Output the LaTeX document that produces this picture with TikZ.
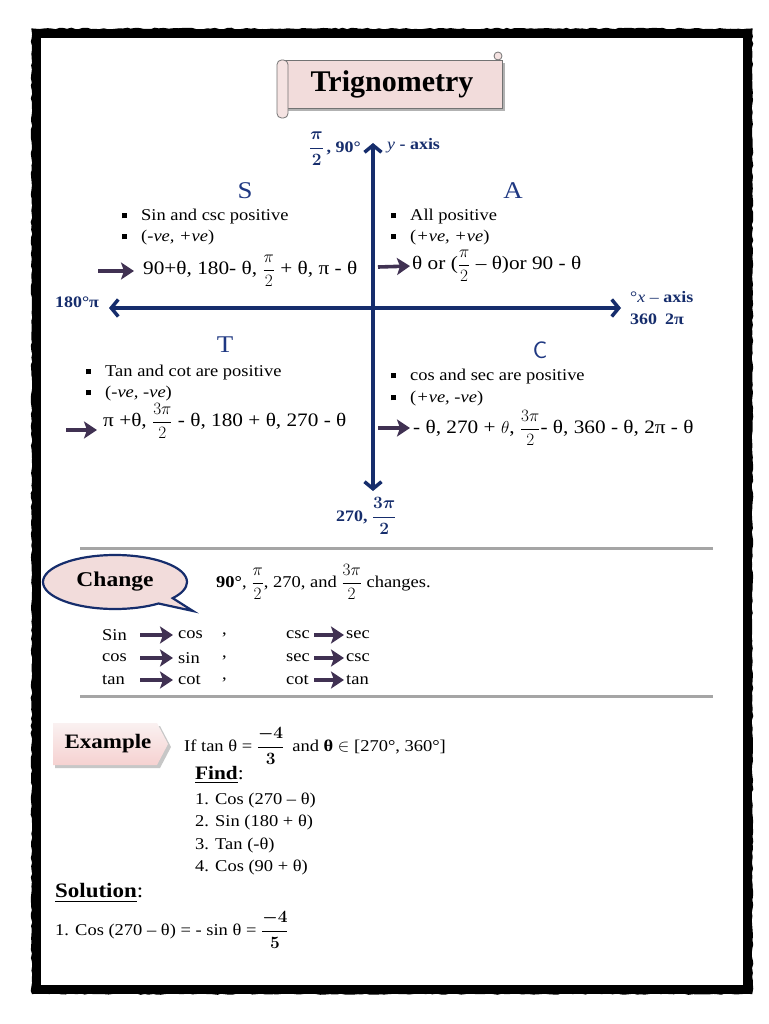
\documentclass[tikz,border=0pt]{standalone}
\usepackage{amsmath}
\usepackage{fontspec}
\setmainfont[FakeStretch=1.12]{Liberation Serif}
\newfontfamily\titlefont{Liberation Serif}
\usetikzlibrary{arrows.meta,shapes.callouts,shapes.geometric,decorations.pathmorphing,shadows}
\definecolor{navy}{RGB}{22,45,108}
\definecolor{quadc}{RGB}{31,56,130}
\definecolor{parrow}{RGB}{64,49,82}
\definecolor{pinkf}{RGB}{242,220,219}
\definecolor{rulec}{RGB}{165,165,165}
\newcommand{\bul}{\makebox[19pt][l]{\rule[2.5pt]{5pt}{5pt}}}
\newcommand{\bfrac}[2]{{\boldmath$\dfrac{#1}{#2}$}}
\begin{document}
\begin{tikzpicture}[x=1pt,y=-1pt,
  txt/.style={anchor=west,inner sep=0pt,font=\fontsize{16.5}{19}\selectfont},
  form/.style={anchor=west,inner sep=0pt,font=\fontsize{19}{22}\selectfont},
  quad/.style={inner sep=0pt,text=quadc,font=\fontsize{24}{28}\selectfont},
  axlab/.style={inner sep=0pt,text=navy,font=\bfseries\boldmath\fontsize{16}{19}\selectfont},
  parr/.style={draw=parrow,line width=3.6pt,-{Stealth[length=13pt,width=17pt,inset=3pt]}},
  axisln/.style={draw=navy,line width=3.5pt,{Straight Barb[length=7pt,width=17pt,line width=3.5pt]}-{Straight Barb[length=7pt,width=17pt,line width=3.5pt]}},
  grule/.style={draw=rulec,line width=3pt},
  rowtxt/.style={anchor=west,inner sep=0pt,font=\fontsize{16.5}{19}\selectfont}
]
\useasboundingbox (0,0) rectangle (768,1024);
\fill[white] (0,0) rectangle (768,1024);
% border
\draw[line width=9pt] (36.5,33.5) rectangle (747.5,989);
\draw[line width=3pt,decorate,decoration={random steps,segment length=4pt,amplitude=0.8pt}] (33,30) rectangle (751,992.5);

% title scroll
\fill[black!30] (288,63) rectangle (505,111);
\draw[black!55,fill=pinkf,line width=0.8pt] (285,60) rectangle (502,108);
\draw[black!55,fill=pinkf!80!white,line width=0.8pt,rounded corners=4.5pt] (277,60) rectangle (288,118);
\draw[black!55,fill=pinkf!80!white,line width=0.8pt] (498,56) circle (4pt);
\node[inner sep=0pt,font=\titlefont\bfseries\fontsize{30}{33}\selectfont] (title) at (392,84) {Trignometry};

% axes
\coordinate (ytop) at (373,143);
\coordinate (ybot) at (373,491);
\coordinate (xleft) at (109,308);
\coordinate (xright) at (621,308);
\draw[axisln] (ybot) -- (ytop);
\draw[axisln] (xleft) -- (xright);

% axis labels
\node[axlab,anchor=west] (l90) at (309,149) {$\dfrac{\pi}{2}$\,, 90°};
\node[anchor=west,inner sep=0pt,text=navy,font=\fontsize{16}{19}\selectfont] (yax) at (387,146) {\textit{y}\textbf{ - axis}};
\node[axlab,anchor=west] (l180) at (55,302) {180°π};
\node[anchor=west,inner sep=0pt,text=navy,font=\fontsize{16}{19}\selectfont] (xax) at (630,297) {°\textit{x} – \textbf{axis}};
\node[axlab,anchor=west] (l360) at (630,319) {360\hspace{8pt}2π};
\node[axlab,anchor=west] (l270) at (336,516) {270, $\dfrac{3\pi}{2}$};

% quadrant letters
\node[quad] (S) at (245,191) {S};
\node[quad] (A) at (513,191) {A};
\node[quad] (T) at (225,345) {T};
\node[quad,font=\sffamily\fontsize{24}{28}\selectfont] (C) at (540,350) {C};

% S quadrant
\node[txt] (s1) at (122,217) {\bul Sin and csc positive};
\node[txt] (s2) at (122,238) {\bul (\textit{-ve, +ve})};
\node[form] (sform) at (143,271) {90+θ, 180- θ, $\dfrac{\pi}{2}$ + θ, π - θ};
\coordinate (sarr) at (98,271);
\draw[parr,shorten >=9pt] (sarr) -- (sform.west);

% A quadrant
\node[txt] (a1) at (391,217) {\bul All positive};
\node[txt] (a2) at (391,238) {\bul (\textit{+ve, +ve})};
\node[form] (aform) at (412,266) {θ or ($\dfrac{\pi}{2}$ – θ)or 90 - θ};
\coordinate (aarr) at (378,267);
\draw[parr,shorten >=2pt] (aarr) -- (aform.west);

% T quadrant
\node[txt] (t1) at (86,373) {\bul Tan and cot are positive};
\node[txt] (t2) at (86,394) {\bul (\textit{-ve, -ve})};
\node[form] (tform) at (103,421) {π +θ, $\dfrac{3\pi}{2}$ - θ, 180 + θ, 270 - θ};
\coordinate (tarr) at (66,430);
\draw[parr,shorten >=6pt] (tarr) -- (tform.west |- tarr);

% C quadrant
\node[txt] (c1) at (391,377) {\bul cos and sec are positive};
\node[txt] (c2) at (391,399) {\bul (\textit{+ve, -ve})};
\node[form] (cform) at (413,428) {- θ, 270 + $\theta$, $\dfrac{3\pi}{2}$- θ, 360 - θ, 2π - θ};
\coordinate (carr) at (378,428);
\draw[parr,shorten >=3pt] (carr) -- (cform.west);

% rules
\coordinate (r1a) at (80,548); \coordinate (r1b) at (713,548);
\coordinate (r2a) at (80,696); \coordinate (r2b) at (713,696);
\draw[grule] (r1a) -- (r1b);
\draw[grule] (r2a) -- (r2b);

% change callout
\coordinate (chtip) at (193,611);
\node[ellipse callout,draw=navy,line width=2.2pt,fill=pinkf,minimum width=144pt,minimum height=54pt,
  callout absolute pointer={(chtip)},callout pointer arc=16,font=\bfseries\fontsize{21}{24}\selectfont] (chg) at (115,582) {Change};
\node[txt] (chtxt) at (216,582) {\textbf{90°}, $\dfrac{\pi}{2}$, 270, and $\dfrac{3\pi}{2}$ changes.};

% change rows
\foreach \ii/\yy/\qa/\qb/\qc/\qd in {1/635/Sin/cos/csc/sec, 2/658/cos/sin/sec/csc, 3/680/tan/cot/cot/tan}{
  \node[rowtxt] (ra\ii) at (102,\yy) {\qa};
  \node[rowtxt] (rb\ii) at (178,\yy) {\qb};
  \node[rowtxt] (rc\ii) at (222,\yy) {,};
  \node[rowtxt] (rd\ii) at (286,\yy) {\qc};
  \node[rowtxt] (re\ii) at (346,\yy) {\qd};
  \coordinate (pa\ii) at (140,\yy);
  \coordinate (pb\ii) at (314,\yy);
  \draw[parr,shorten >=5pt] (pa\ii) -- (rb\ii.west);
  \draw[parr,shorten >=2pt] (pb\ii) -- (re\ii.west);
}

% example
\fill[black!22] (55,726) -- (160,726) -- (171,747) -- (160,768) -- (55,768) -- cycle;
\shade[top color=pinkf!40!white,bottom color=pinkf!90!red!80!white]
  (53,723) -- (157,723) -- (168,744) -- (157,765) -- (53,765) -- cycle;
\node[inner sep=0pt,font=\bfseries\fontsize{20.5}{24}\selectfont] (exm) at (108,744) {Example};
\node[txt] (extxt) at (184,746) {If tan θ = \bfrac{-4}{3}\hspace{8pt}and \textbf{θ} $\in$ {[}270°, 360°{]}};

\node[anchor=west,inner sep=0pt,font=\fontsize{19}{22}\selectfont] (find) at (195,775) {\textbf{\underline{Find}}:};
\node[txt] (f1) at (195,800) {1.\hspace{6pt}Cos (270 – θ)};
\node[txt] (f2) at (195,822) {2. Sin (180 + θ)};
\node[txt] (f3) at (195,845) {3. Tan (-θ)};
\node[txt] (f4) at (195,867) {4. Cos (90 + θ)};

\node[anchor=west,inner sep=0pt,font=\fontsize{20.5}{24}\selectfont] (sol) at (55,893) {\textbf{\underline{Solution}}:};
\node[txt] (s1sol) at (55,930) {1. Cos (270 – θ) = - sin θ = \bfrac{-4}{5}};
\end{tikzpicture}
\end{document}
